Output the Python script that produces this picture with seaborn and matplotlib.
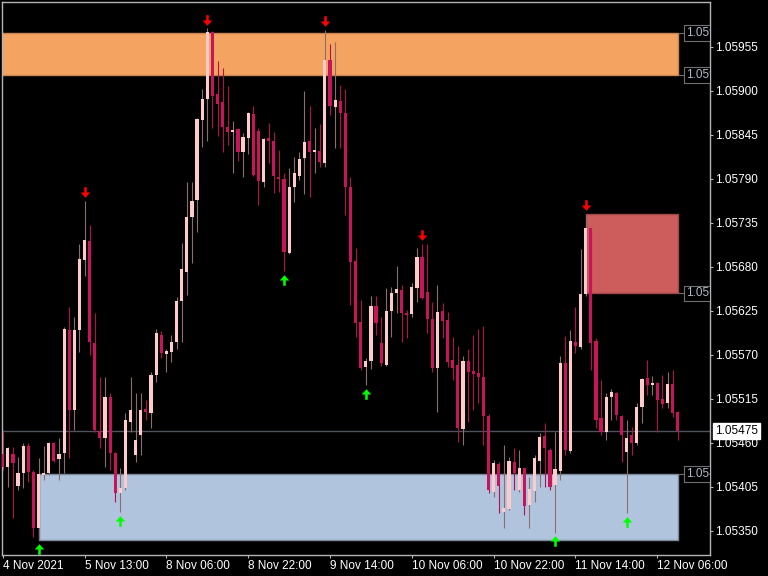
import numpy as np
import pandas as pd
import matplotlib
matplotlib.use("Agg")
import matplotlib.pyplot as plt
from matplotlib.path import Path
from matplotlib.patches import Rectangle
import seaborn as sns

# H1 candles, 4 Nov 2021 -> 12 Nov 10:00
opens = [1.05446, 1.05430, 1.05446, 1.05406, 1.05422, 1.05456, 1.05424, 1.05354, 1.05420, 1.05422,
         1.05460, 1.05440, 1.05447, 1.05601, 1.05501, 1.05601, 1.05689, 1.05712, 1.05585, 1.05475,
         1.05466, 1.05517, 1.05447, 1.05397, 1.05404, 1.05486, 1.05445, 1.05470, 1.05502, 1.05497,
         1.05545, 1.05595, 1.05571, 1.05574, 1.05586, 1.05637, 1.05674, 1.05742, 1.05764, 1.05863,
         1.05890, 1.05973, 1.05896, 1.05886, 1.05855, 1.05848, 1.05852, 1.05823, 1.05841, 1.05871,
         1.05850, 1.05786, 1.05841, 1.05837, 1.05792, 1.05790, 1.05697, 1.05780, 1.05794, 1.05816,
         1.05837, 1.05823, 1.05825, 1.05810, 1.05938, 1.05880, 1.05887, 1.05872, 1.05780, 1.05687,
         1.05611, 1.05555, 1.05562, 1.05631, 1.05585, 1.05557, 1.05625, 1.05647, 1.05651, 1.05622,
         1.05621, 1.05654, 1.05692, 1.05649, 1.05615, 1.05554, 1.05625, 1.05614, 1.05564, 1.05557,
         1.05477, 1.05562, 1.05550, 1.05547, 1.05542, 1.05494, 1.05399, 1.05434, 1.05374, 1.05377,
         1.05436, 1.05401, 1.05429, 1.05382, 1.05400, 1.05437, 1.05469, 1.05451, 1.05407, 1.05425,
         1.05560, 1.05450, 1.05586, 1.05580, 1.05646, 1.05728, 1.05587, 1.05491, 1.05474, 1.05517,
         1.05522, 1.05494, 1.05449, 1.05470, 1.05460, 1.05505, 1.05541, 1.05532, 1.05535, 1.05515,
         1.05510, 1.05534, 1.05499]
highs = [1.05474, 1.05455, 1.05455, 1.05442, 1.05460, 1.05460, 1.05426, 1.05441, 1.05456, 1.05461,
         1.05461, 1.05466, 1.05605, 1.05630, 1.05617, 1.05709, 1.05762, 1.05732, 1.05622, 1.05542,
         1.05542, 1.05522, 1.05449, 1.05429, 1.05497, 1.05542, 1.05522, 1.05522, 1.05514, 1.05549,
         1.05602, 1.05600, 1.05577, 1.05595, 1.05642, 1.05710, 1.05786, 1.05786, 1.05866, 1.05902,
         1.05978, 1.05975, 1.05937, 1.05928, 1.05906, 1.05862, 1.05853, 1.05847, 1.05873, 1.05881,
         1.05853, 1.05841, 1.05860, 1.05848, 1.05826, 1.05797, 1.05804, 1.05817, 1.05823, 1.05900,
         1.05881, 1.05853, 1.05858, 1.05976, 1.05958, 1.05961, 1.05907, 1.05902, 1.05792, 1.05704,
         1.05639, 1.05566, 1.05644, 1.05644, 1.05617, 1.05654, 1.05655, 1.05681, 1.05657, 1.05626,
         1.05660, 1.05704, 1.05709, 1.05709, 1.05636, 1.05657, 1.05635, 1.05624, 1.05592, 1.05581,
         1.05569, 1.05577, 1.05595, 1.05602, 1.05606, 1.05496, 1.05439, 1.05436, 1.05457, 1.05442,
         1.05454, 1.05451, 1.05430, 1.05417, 1.05445, 1.05472, 1.05485, 1.05454, 1.05474, 1.05569,
         1.05594, 1.05601, 1.05630, 1.05702, 1.05746, 1.05729, 1.05591, 1.05539, 1.05522, 1.05527,
         1.05524, 1.05495, 1.05489, 1.05480, 1.05510, 1.05541, 1.05564, 1.05544, 1.05536, 1.05545,
         1.05549, 1.05551, 1.05500]
lows = [1.05426, 1.05405, 1.05366, 1.05401, 1.05404, 1.05411, 1.05343, 1.05339, 1.05414, 1.05420,
        1.05436, 1.05414, 1.05422, 1.05441, 1.05476, 1.05574, 1.05669, 1.05570, 1.05474, 1.05454,
        1.05430, 1.05426, 1.05386, 1.05374, 1.05401, 1.05474, 1.05436, 1.05445, 1.05489, 1.05479,
        1.05536, 1.05566, 1.05549, 1.05561, 1.05577, 1.05586, 1.05645, 1.05685, 1.05724, 1.05830,
        1.05837, 1.05853, 1.05843, 1.05823, 1.05832, 1.05797, 1.05812, 1.05792, 1.05821, 1.05794,
        1.05757, 1.05780, 1.05810, 1.05772, 1.05773, 1.05675, 1.05696, 1.05761, 1.05789, 1.05771,
        1.05767, 1.05797, 1.05805, 1.05805, 1.05870, 1.05828, 1.05828, 1.05745, 1.05632, 1.05592,
        1.05551, 1.05532, 1.05552, 1.05595, 1.05556, 1.05556, 1.05592, 1.05622, 1.05586, 1.05591,
        1.05617, 1.05636, 1.05640, 1.05597, 1.05549, 1.05499, 1.05591, 1.05555, 1.05539, 1.05461,
        1.05457, 1.05486, 1.05501, 1.05510, 1.05457, 1.05397, 1.05392, 1.05372, 1.05354, 1.05376,
        1.05401, 1.05399, 1.05370, 1.05354, 1.05386, 1.05405, 1.05405, 1.05401, 1.05348, 1.05414,
        1.05445, 1.05447, 1.05572, 1.05577, 1.05644, 1.05551, 1.05479, 1.05470, 1.05464, 1.05489,
        1.05489, 1.05436, 1.05372, 1.05445, 1.05457, 1.05485, 1.05520, 1.05520, 1.05474, 1.05504,
        1.05504, 1.05492, 1.05464]
closes = [1.05430, 1.05454, 1.05435, 1.05422, 1.05456, 1.05424, 1.05354, 1.05421, 1.05422, 1.05460,
          1.05437, 1.05446, 1.05602, 1.05501, 1.05601, 1.05690, 1.05714, 1.05586, 1.05476, 1.05466,
          1.05517, 1.05447, 1.05397, 1.05404, 1.05489, 1.05501, 1.05464, 1.05501, 1.05499, 1.05545,
          1.05597, 1.05572, 1.05575, 1.05586, 1.05637, 1.05677, 1.05742, 1.05762, 1.05865, 1.05890,
          1.05973, 1.05893, 1.05883, 1.05855, 1.05848, 1.05851, 1.05823, 1.05842, 1.05872, 1.05795,
          1.05787, 1.05840, 1.05837, 1.05794, 1.05790, 1.05698, 1.05780, 1.05797, 1.05815, 1.05836,
          1.05823, 1.05826, 1.05811, 1.05938, 1.05881, 1.05888, 1.05872, 1.05780, 1.05686, 1.05610,
          1.05554, 1.05562, 1.05631, 1.05610, 1.05560, 1.05625, 1.05647, 1.05652, 1.05622, 1.05620,
          1.05655, 1.05692, 1.05641, 1.05615, 1.05554, 1.05624, 1.05612, 1.05561, 1.05554, 1.05479,
          1.05562, 1.05549, 1.05546, 1.05542, 1.05494, 1.05401, 1.05435, 1.05406, 1.05379, 1.05437,
          1.05422, 1.05429, 1.05381, 1.05402, 1.05441, 1.05467, 1.05454, 1.05405, 1.05427, 1.05560,
          1.05451, 1.05587, 1.05581, 1.05646, 1.05728, 1.05585, 1.05489, 1.05474, 1.05517, 1.05524,
          1.05495, 1.05470, 1.05466, 1.05460, 1.05505, 1.05540, 1.05532, 1.05535, 1.05514, 1.05509,
          1.05534, 1.05497, 1.05475]

time_ticks = [0, 16, 32, 48, 64, 80, 96, 112, 128]
time_labels = ['4 Nov 2021', '5 Nov 13:00', '8 Nov 06:00', '8 Nov 22:00', '9 Nov 14:00',
               '10 Nov 06:00', '10 Nov 22:00', '11 Nov 14:00', '12 Nov 06:00']
price_ticks = [1.05350, 1.05405, 1.05460, 1.05515, 1.05570, 1.05625,
               1.05680, 1.05735, 1.05790, 1.05845, 1.05900, 1.05955]

sell_bars = [16, 40, 63, 82, 114]
buy_bars = [7, 23, 55, 71, 108, 122]

# supply / demand zones
zone_top = [1.05972, 1.05746, 1.05421]
zone_bottom = [1.05920, 1.05647, 1.05339]
zone_start = [-3, 114, 7]
zone_end = [132, 132, 132]
zone_fill = ['#F4A460', '#CD5C5C', '#B0C4DE']
zone_edge = ['#C98452', '#9E4747', '#7E8A99']
tag_levels = [1.05972, 1.05920, 1.05647, 1.05421]

last_price = 1.05475

df = pd.DataFrame({'open': opens, 'high': highs, 'low': lows, 'close': closes})
df['bar'] = np.arange(len(df))
df['up'] = df['close'] >= df['open']

sns.set_theme(style='dark', rc={'axes.facecolor': 'black', 'figure.facecolor': 'black',
                                'axes.edgecolor': '#b4b4b4', 'axes.grid': False})
plt.rcParams['font.family'] = ['Liberation Sans', 'DejaVu Sans']

fig = plt.figure(figsize=(7.68, 5.76), dpi=100)
ax = fig.add_axes([2/768, 21/576, 708/768, 553/576])

bull_col, bear_col = '#FFCACA', '#C8145A'
bull_wick, bear_wick = '#8C6E6E', '#B0124E'

# zones
for t, b, s, e, fc, ec in zip(zone_top, zone_bottom, zone_start, zone_end, zone_fill, zone_edge):
    ax.add_patch(Rectangle((s, b), e - s, t - b, facecolor=fc, edgecolor=ec, lw=1, zorder=1))

ax.axhline(last_price, color='#4e545c', lw=1, zorder=1.5)

# wicks
ax.vlines(df['bar'], df['low'], df['high'],
          colors=np.where(df['up'], bull_wick, bear_wick), lw=0.8, zorder=2)
# bodies
bottoms = df[['open', 'close']].min(axis=1)
heights = (df['close'] - df['open']).abs().clip(lower=0.000012)
ax.bar(df['bar'], heights, bottom=bottoms, width=0.62,
       color=np.where(df['up'], bull_col, bear_col), linewidth=0, zorder=3)

# signal arrows
down_arrow = Path([(-0.12, 0.5), (0.12, 0.5), (0.12, 0.0), (0.45, 0.0), (0, -0.5),
                   (-0.45, 0.0), (-0.12, 0.0), (-0.12, 0.5)], closed=True)
up_arrow = Path([(x, -y) for x, y in down_arrow.vertices], closed=True)
sells = df.loc[sell_bars]
buys = df.loc[buy_bars]
sns.scatterplot(x=sells['bar'], y=sells['high'] + 0.00011, marker=down_arrow, s=58,
                color='#FF0000', linewidth=0, ax=ax, zorder=5, legend=False)
sns.scatterplot(x=buys['bar'], y=buys['low'] - 0.00011, marker=up_arrow, s=58,
                color='#00FF00', linewidth=0, ax=ax, zorder=5, legend=False)

# zone price tags at right edge
ax.hlines(tag_levels, 132, 133.4, color='#707070', lw=0.8, zorder=4)
for lvl in tag_levels:
    t = ax.text(133.6, lvl, f'{lvl:.5f}', fontsize=8.5, color='#aeb8c8', va='center', ha='left',
                bbox=dict(boxstyle='square,pad=0.15', fc='black', ec='#707070', lw=0.8),
                clip_on=True, zorder=6)
    t.set_clip_path(ax.patch)

ax.set_xlim(-0.14, 138.3)
ax.set_ylim(1.05320, 1.06011)

ax.yaxis.tick_right()
ax.set_yticks(price_ticks)
ax.set_yticklabels([f'{p:.5f}' for p in price_ticks])
ax.set_xticks(time_ticks)
ax.set_xticklabels(time_labels, ha='left')
ax.tick_params(axis='y', right=True, left=False, length=2.2, width=0.8, color='#b4b4b4',
               labelcolor='white', labelsize=8.5, pad=1.4, direction='out')
ax.tick_params(axis='x', bottom=True, length=2.2, width=0.8, color='#b4b4b4',
               labelcolor='white', labelsize=8.5, pad=1.4, direction='out')
ax.set_xlabel('')
ax.set_ylabel('')
for sp in ax.spines.values():
    sp.set_visible(True)
    sp.set_color('#b4b4b4')
    sp.set_linewidth(1)

# current price label
ax.text(1.0072, last_price, f'{last_price:.5f}', transform=ax.get_yaxis_transform(),
        fontsize=8.5, color='black', va='center', ha='left', clip_on=False, zorder=10,
        bbox=dict(boxstyle='square,pad=0.2', fc='white', ec='white'))

fig.savefig('out.png', dpi=100, facecolor='black')
